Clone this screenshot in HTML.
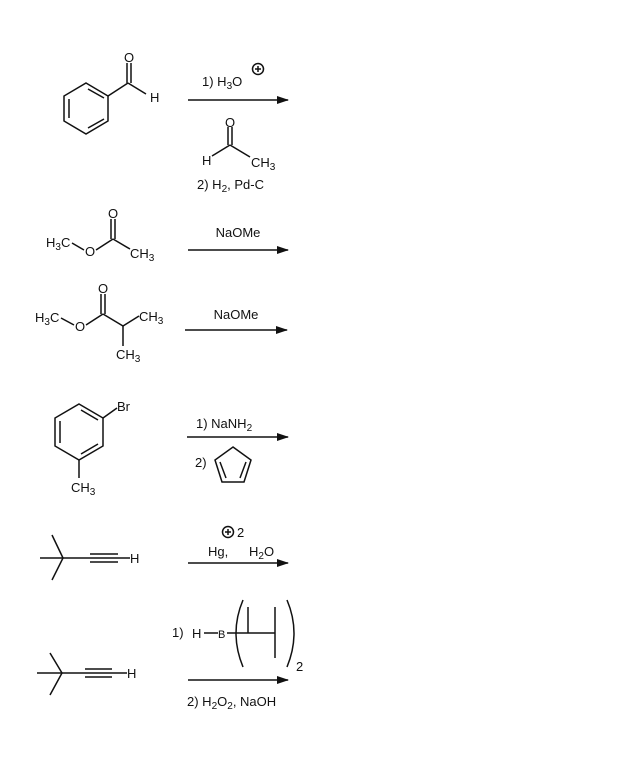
<!DOCTYPE html>
<html><head><style>html,body{margin:0;padding:0;background:#fff}svg{display:block}</style></head>
<body>
<svg width="629" height="759" viewBox="0 0 629 759" xmlns="http://www.w3.org/2000/svg" font-family="Liberation Sans, sans-serif" font-size="13" fill="#111">
<defs><marker id="ah" markerWidth="12" markerHeight="8" refX="11" refY="4" orient="auto" markerUnits="userSpaceOnUse"><path d="M0,0 L12,4 L0,8 Z" fill="#111"/></marker></defs>
<g stroke="#111" stroke-width="1.5" fill="none">
<polygon points="86,83 108,96 108,121 86,134 64,121 64,96"/>
<line x1="69" y1="99" x2="69" y2="118"/><line x1="88" y1="89" x2="104" y2="98"/><line x1="88" y1="128" x2="104" y2="119"/>
<line x1="108" y1="96" x2="128" y2="83"/>
<line x1="127" y1="83" x2="127" y2="63"/><line x1="131" y1="83" x2="131" y2="63"/>
<line x1="128" y1="83" x2="146" y2="94"/>
<line x1="188" y1="100" x2="288" y2="100" marker-end="url(#ah)"/>
<circle cx="258" cy="69" r="5.5"/><line x1="255" y1="69" x2="261" y2="69"/><line x1="258" y1="66" x2="258" y2="72"/>
<line x1="228" y1="145" x2="228" y2="127"/><line x1="232" y1="145" x2="232" y2="127"/>
<line x1="230" y1="145" x2="212" y2="156"/><line x1="230" y1="145" x2="250" y2="157"/>
<line x1="72" y1="243" x2="84" y2="250"/><line x1="96" y1="250" x2="113" y2="239"/>
<line x1="111" y1="239" x2="111" y2="219"/><line x1="115" y1="239" x2="115" y2="219"/>
<line x1="113" y1="239" x2="130" y2="249"/>
<line x1="188" y1="250" x2="288" y2="250" marker-end="url(#ah)"/>
<line x1="61" y1="318" x2="74" y2="325"/><line x1="86" y1="325" x2="103" y2="314"/>
<line x1="101" y1="314" x2="101" y2="294"/><line x1="105" y1="314" x2="105" y2="294"/>
<line x1="103" y1="314" x2="123" y2="326"/><line x1="123" y1="326" x2="139" y2="316"/>
<line x1="123" y1="326" x2="123" y2="346"/>
<line x1="185" y1="330" x2="287" y2="330" marker-end="url(#ah)"/>
<polygon points="79,404 103,418 103,446 79,460 55,446 55,418"/>
<line x1="60" y1="421" x2="60" y2="443"/><line x1="81" y1="410" x2="98" y2="420"/><line x1="81" y1="454" x2="98" y2="444"/>
<line x1="103" y1="418" x2="117" y2="408"/>
<line x1="79" y1="460" x2="79" y2="478"/>
<line x1="187" y1="437" x2="288" y2="437" marker-end="url(#ah)"/>
<polygon points="233,447 251,460 244,482 222,482 215,460"/>
<line x1="220" y1="462" x2="226" y2="478"/><line x1="246" y1="462" x2="240" y2="478"/>
<line x1="40" y1="558" x2="90" y2="558"/><line x1="63" y1="558" x2="52" y2="535"/><line x1="63" y1="558" x2="52" y2="580"/>
<line x1="90" y1="554" x2="118" y2="554"/><line x1="90" y1="558" x2="130" y2="558"/><line x1="90" y1="562" x2="118" y2="562"/>
<line x1="188" y1="563" x2="288" y2="563" marker-end="url(#ah)"/>
<circle cx="228" cy="532" r="5.5"/><line x1="225" y1="532" x2="231" y2="532"/><line x1="228" y1="529" x2="228" y2="535"/>
<line x1="37" y1="673" x2="85" y2="673"/><line x1="62" y1="673" x2="50" y2="653"/><line x1="62" y1="673" x2="50" y2="695"/>
<line x1="85" y1="669" x2="112" y2="669"/><line x1="85" y1="673" x2="127" y2="673"/><line x1="85" y1="677" x2="112" y2="677"/>
<line x1="188" y1="680" x2="288" y2="680" marker-end="url(#ah)"/>
<line x1="204" y1="633" x2="218" y2="633"/><line x1="227" y1="633" x2="275" y2="633"/>
<line x1="248" y1="607" x2="248" y2="633"/><line x1="275" y1="607" x2="275" y2="658"/>
<path d="M243,600 Q229,633 243,667"/><path d="M287,600 Q301,633 287,667"/>
</g>
<g stroke="none">
<text x="129" y="62" text-anchor="middle">O</text>
<text x="150" y="102">H</text>
<text x="202" y="86">1)  H<tspan font-size="10" dy="3">3</tspan><tspan dy="-3">O</tspan></text>
<text x="230" y="127" text-anchor="middle">O</text>
<text x="202" y="165">H</text>
<text x="251" y="167">CH<tspan font-size="10" dy="3">3</tspan></text>
<text x="197" y="189">2) H<tspan font-size="10" dy="3">2</tspan><tspan dy="-3">, Pd-C</tspan></text>
<text x="46" y="247">H<tspan font-size="10" dy="3">3</tspan><tspan dy="-3">C</tspan></text>
<text x="90" y="256" text-anchor="middle">O</text>
<text x="113" y="218" text-anchor="middle">O</text>
<text x="130" y="258">CH<tspan font-size="10" dy="3">3</tspan></text>
<text x="238" y="237" text-anchor="middle">NaOMe</text>
<text x="35" y="322">H<tspan font-size="10" dy="3">3</tspan><tspan dy="-3">C</tspan></text>
<text x="80" y="331" text-anchor="middle">O</text>
<text x="103" y="293" text-anchor="middle">O</text>
<text x="139" y="321">CH<tspan font-size="10" dy="3">3</tspan></text>
<text x="116" y="359">CH<tspan font-size="10" dy="3">3</tspan></text>
<text x="236" y="319" text-anchor="middle">NaOMe</text>
<text x="117" y="411">Br</text>
<text x="71" y="492">CH<tspan font-size="10" dy="3">3</tspan></text>
<text x="196" y="428">1) NaNH<tspan font-size="10" dy="3">2</tspan></text>
<text x="195" y="467">2)</text>
<text x="130" y="563">H</text>
<text x="237" y="537">2</text>
<text x="208" y="556">Hg,</text>
<text x="249" y="556">H<tspan font-size="10" dy="3">2</tspan><tspan dy="-3">O</tspan></text>
<text x="127" y="678">H</text>
<text x="172" y="637">1)</text>
<text x="192" y="638">H</text>
<text x="218" y="638" font-size="11">B</text>
<text x="296" y="671">2</text>
<text x="187" y="706">2) H<tspan font-size="10" dy="3">2</tspan><tspan dy="-3">O</tspan><tspan font-size="10" dy="3">2</tspan><tspan dy="-3">, NaOH</tspan></text>
</g>
</svg>
</body></html>
